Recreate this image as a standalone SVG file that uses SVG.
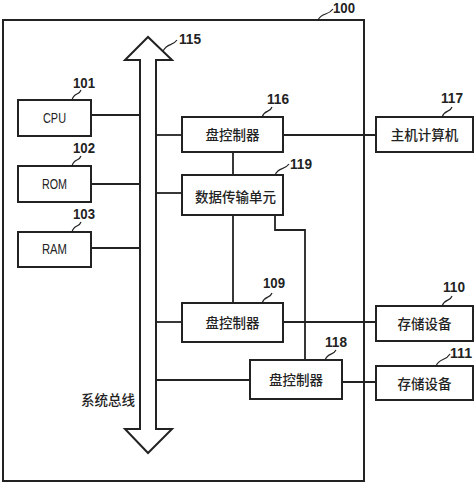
<svg xmlns="http://www.w3.org/2000/svg" width="474" height="483" viewBox="0 0 474 483">
<style>
.box{fill:#fff;stroke:#222;stroke-width:2}
.ln{fill:none;stroke:#222;stroke-width:1.8}
.ld{fill:none;stroke:#222;stroke-width:1.2}
.num{font-family:"Liberation Sans",Arial,sans-serif;font-weight:bold;font-size:14.5px;fill:#222}
.en{font-family:"Liberation Sans",Arial,sans-serif;font-size:14px;fill:#222;text-anchor:middle}
.cn{font-family:"Noto Sans CJK SC","Noto Sans",sans-serif;font-weight:500;font-size:13.5px;fill:#222;text-anchor:middle}
</style>
<rect width="474" height="483" fill="#fff"/>
<g id="n100">
<rect class="box" x="3" y="20" width="361" height="461"/>
<path class="ld" d="M318,20 C322,12 328,16 333,9"/>
<text class="num" x="333" y="13" textLength="22" lengthAdjust="spacingAndGlyphs">100</text>
</g>
<g id="n115">
<path class="box" d="M140,60 L125,60 L148,37 L172,60 L156,60 L156,429 L172,429 L148,453 L125,429 L140,429 Z"/>
<path class="ld" d="M163,51 C168,42 172,47 177,40"/>
<text class="num" x="179" y="44" textLength="22" lengthAdjust="spacingAndGlyphs">115</text>
<text class="cn" x="108" y="405">系统总线</text>
</g>
<g id="connectors">
<path class="ln" d="M91,115 H140"/>
<path class="ln" d="M91,184 H140"/>
<path class="ln" d="M91,248 H140"/>
<path class="ln" d="M156,135 H182"/>
<path class="ln" d="M283,135 H376"/>
<path class="ln" d="M233,152 V175"/>
<path class="ln" d="M156,193 H182"/>
<path class="ln" d="M233,215 V303"/>
<path class="ln" d="M275,215 V230 H305 V360"/>
<path class="ln" d="M156,322 H182"/>
<path class="ln" d="M283,322 H376"/>
<path class="ln" d="M156,380 H250"/>
<path class="ln" d="M342,382 H376"/>
</g>
<g id="n101">
<rect class="box" x="18" y="100" width="73" height="36"/>
<text class="en" x="54.5" y="123" textLength="23" lengthAdjust="spacingAndGlyphs">CPU</text>
<path class="ld" d="M72,100 C74,92 79,96 81,90"/>
<text class="num" x="73" y="88" textLength="22" lengthAdjust="spacingAndGlyphs">101</text>
</g>
<g id="n102">
<rect class="box" x="18" y="166" width="73" height="36"/>
<text class="en" x="54.5" y="189" textLength="25" lengthAdjust="spacingAndGlyphs">ROM</text>
<path class="ld" d="M72,166 C74,158 79,162 81,156"/>
<text class="num" x="73" y="153" textLength="22" lengthAdjust="spacingAndGlyphs">102</text>
</g>
<g id="n103">
<rect class="box" x="18" y="232" width="73" height="35"/>
<text class="en" x="54.5" y="254" textLength="25" lengthAdjust="spacingAndGlyphs">RAM</text>
<path class="ld" d="M72,232 C74,224 79,228 81,222"/>
<text class="num" x="73" y="219" textLength="22" lengthAdjust="spacingAndGlyphs">103</text>
</g>
<g id="n116">
<rect class="box" x="182" y="117" width="101" height="35"/>
<text class="cn" x="232.5" y="140">盘控制器</text>
<path class="ld" d="M262,117 C265,109 270,113 272,107"/>
<text class="num" x="267" y="104" textLength="22" lengthAdjust="spacingAndGlyphs">116</text>
</g>
<g id="n117">
<rect class="box" x="376" y="117" width="97" height="35"/>
<text class="cn" x="424.5" y="140">主机计算机</text>
<path class="ld" d="M442,117 C445,109 450,113 452,107"/>
<text class="num" x="441" y="103" textLength="22" lengthAdjust="spacingAndGlyphs">117</text>
</g>
<g id="n119">
<rect class="box" x="182" y="175" width="101" height="40"/>
<text class="cn" x="235.5" y="201.5">数据传输单元</text>
<path class="ld" d="M275,175 C279,166 284,171 289,164"/>
<text class="num" x="290" y="169" textLength="22" lengthAdjust="spacingAndGlyphs">119</text>
</g>
<g id="n109">
<rect class="box" x="182" y="303" width="101" height="39"/>
<text class="cn" x="232.5" y="327.5">盘控制器</text>
<path class="ld" d="M262,303 C265,295 270,299 272,293"/>
<text class="num" x="263" y="288" textLength="22" lengthAdjust="spacingAndGlyphs">109</text>
</g>
<g id="n110">
<rect class="box" x="376" y="306" width="97" height="35"/>
<text class="cn" x="424.5" y="328.5">存储设备</text>
<path class="ld" d="M442,306 C445,298 450,302 452,296"/>
<text class="num" x="443" y="292" textLength="22" lengthAdjust="spacingAndGlyphs">110</text>
</g>
<g id="n118">
<rect class="box" x="250" y="360" width="92" height="39"/>
<text class="cn" x="296" y="385">盘控制器</text>
<path class="ld" d="M325,360 C328,352 333,356 336,350"/>
<text class="num" x="325" y="347" textLength="22" lengthAdjust="spacingAndGlyphs">118</text>
</g>
<g id="n111">
<rect class="box" x="376" y="366" width="97" height="34"/>
<text class="cn" x="424.5" y="388.5">存储设备</text>
<path class="ld" d="M436,366 C440,357 445,362 450,354"/>
<text class="num" x="450" y="358" textLength="22" lengthAdjust="spacingAndGlyphs">111</text>
</g>
</svg>
